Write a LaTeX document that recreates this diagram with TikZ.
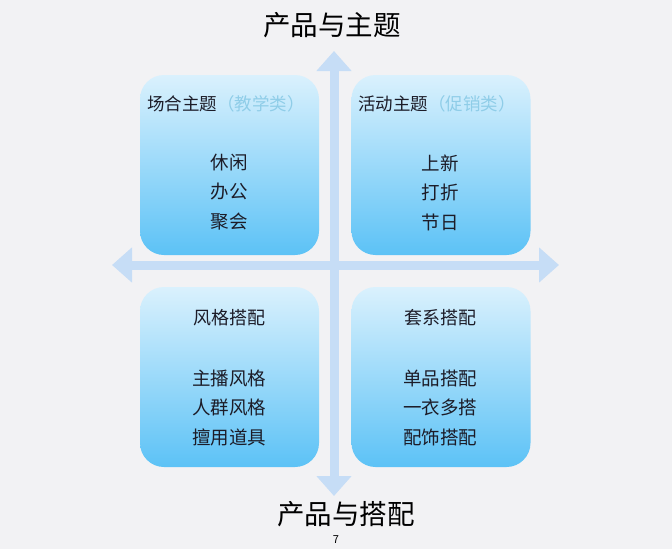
\documentclass[tikz,border=0pt]{standalone}
\usepackage{fontspec}
\setmainfont{Noto Sans CJK SC}
\usetikzlibrary{arrows.meta}
\definecolor{bg}{HTML}{F2F2F4}
\definecolor{axis}{HTML}{C6DDF6}
\definecolor{boxtop}{HTML}{DAF1FD}
\definecolor{boxbot}{HTML}{5CC2F6}
\definecolor{note}{HTML}{8FCDE8}
\definecolor{ink}{HTML}{1C1C28}
\tikzset{
  quad/.style={rounded corners=24pt, top color=boxtop, bottom color=boxbot, draw=none,
    minimum width=179pt, minimum height=180pt, inner sep=0pt},
  axisline/.style={draw=axis, line width=9pt,
    {Triangle[width=34pt,length=20pt]}-{Triangle[width=34pt,length=20pt]}},
  boxtitle/.style={font=\fontsize{17.5pt}{20pt}\selectfont, text=ink, anchor=west, inner sep=0pt},
  boxhead/.style={font=\fontsize{18pt}{20pt}\selectfont, text=ink, inner sep=0pt},
  item/.style={font=\fontsize{18.5pt}{20pt}\selectfont, text=ink, inner sep=0pt},
  bigtitle/.style={font=\fontsize{27.5pt}{30pt}\selectfont, text=black, inner sep=0pt},
}
\begin{document}
\begin{tikzpicture}[x=1pt,y=-1pt]
\fill[bg] (0,0) rectangle (672,549);
\useasboundingbox (0,0) rectangle (672,549);
% axes
\coordinate (vtop) at (334,51);
\coordinate (vbot) at (334,496);
\coordinate (hleft) at (112,265);
\coordinate (hright) at (559,265);
\draw[axisline] (vtop) -- (vbot);
\draw[axisline] (hleft) -- (hright);
% boxes
\node[quad] (tl) at (229.5,165) {};
\node[quad] (tr) at (441,165) {};
\node[quad] (bl) at (229.5,377) {};
\node[quad] (br) at (441,377) {};
% top-left
\node[boxtitle] (tlt) at (147,104) {场合主题\textcolor{note}{（教学类）}};
\node[item] (tl1) at (229,163) {休闲};
\node[item] (tl2) at (229,192) {办公};
\node[item] (tl3) at (229,222) {聚会};
% top-right
\node[boxtitle] (trt) at (358,104) {活动主题\textcolor{note}{（促销类）}};
\node[item] (tr1) at (440,163) {上新};
\node[item] (tr2) at (440,192) {打折};
\node[item] (tr3) at (440,222) {节日};
% bottom-left
\node[boxhead] (blt) at (229,318) {风格搭配};
\node[item] (bl1) at (229,378) {主播风格};
\node[item] (bl2) at (229,407) {人群风格};
\node[item] (bl3) at (229,437) {擅用道具};
% bottom-right
\node[boxhead] (brt) at (440,318) {套系搭配};
\node[item] (br1) at (440,378) {单品搭配};
\node[item] (br2) at (440,407) {一衣多搭};
\node[item] (br3) at (440,437) {配饰搭配};
% titles
\node[bigtitle] (top) at (332,25) {产品与主题};
\node[bigtitle] (bottom) at (346,514) {产品与搭配};
\node[font=\fontsize{11pt}{12pt}\selectfont, inner sep=0pt] (page) at (336,540) {7};
\end{tikzpicture}
\end{document}
